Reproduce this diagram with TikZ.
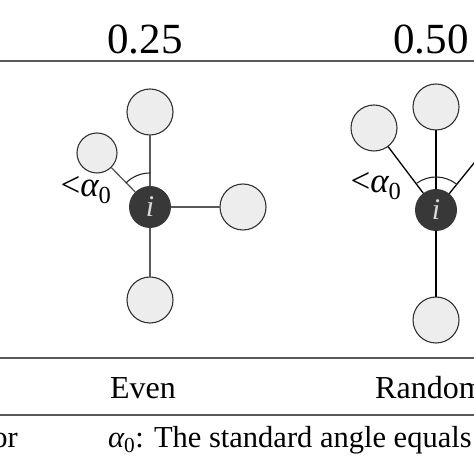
\documentclass[tikz,border=0pt]{standalone}
\usepackage{fontspec}
\setmainfont{Liberation Serif}
\usetikzlibrary{calc}
\begin{document}
\begin{tikzpicture}[
  x=1pt, y=1pt, line cap=round, line join=round,
  rule/.style={line width=1.8pt, black!65},
  nbr/.style={circle, draw=black!80, fill=black!7, line width=1.1pt, minimum size=46pt, inner sep=0pt},
  ctr/.style={circle, fill=black!78, text=white!85!black, minimum size=42pt, inner sep=0pt, font=\fontsize{30}{30}\selectfont\itshape},
  bond/.style={line width=1.3pt, black!65},
  ang/.style={line width=1.1pt, black!85},
  lbl/.style={inner sep=0pt, font=\fontsize{35}{35}\selectfont}
]
  \useasboundingbox (0,0) rectangle (474,474);
  \clip (0,0) rectangle (474,474);

  % table rules
  \draw[rule] (0,413) -- (474,413);
  \draw[rule] (0,116) -- (474,116);
  \draw[rule] (0,59) -- (474,59);

  % header and row texts
  \node[font=\fontsize{43}{43}\selectfont] (h1) at (145,434) {0.25};
  \node[font=\fontsize{43}{43}\selectfont] (h2) at (431,434) {0.50};
  \node[font=\fontsize{32}{32}\selectfont] (d1) at (143,86) {Even};
  \node[font=\fontsize{32}{32}\selectfont, anchor=west, inner sep=0pt] (d2) at (375,86) {Random};
  \node[font=\fontsize{30.5}{30.5}\selectfont, anchor=east, inner sep=0pt] (n1) at (18,34) {or};
  \node[font=\fontsize{30.5}{30.5}\selectfont, anchor=west, inner sep=0pt] (n2) at (108,34)
    {{\itshape α}\textsubscript{0}: The standard angle equals};

  % even distribution
  \node[ctr] (i1) at (150,267) {i};
  \node[nbr] (t1) at (150,362) {};
  \node[nbr] (r1) at (243,267) {};
  \node[nbr] (b1) at (150,174) {};
  \node[nbr, minimum size=40pt] (u1) at (97,321) {};
  \draw[bond] (i1) -- (t1);
  \draw[bond] (i1) -- (r1);
  \draw[bond] (i1) -- (b1);
  \draw[bond] (i1) -- (u1);
  \draw[ang] (i1.center) ++(90:34) arc[start angle=90, end angle=135, radius=34];
  \node[lbl] (a1) at (86,284) {<{\itshape α}\textsubscript{0}};

  % random distribution
  \node[ctr] (i2) at (436,264) {i};
  \node[nbr] (t2) at (436,367) {};
  \node[nbr] (u2) at (374,346) {};
  \node[nbr] (b2) at (436,154) {};
  \coordinate (r2) at ($(i2)+(51:80)$);
  \draw[bond, black] (i2) -- (t2);
  \draw[bond, black] (i2) -- (u2);
  \draw[bond, black] (i2) -- (b2);
  \draw[bond, black] (i2) -- (r2);
  \draw[ang] (i2.center) ++(51:33) arc[start angle=51, end angle=126, radius=33];
  \node[lbl] (a2) at (376,288) {<{\itshape α}\textsubscript{0}};
\end{tikzpicture}
\end{document}
